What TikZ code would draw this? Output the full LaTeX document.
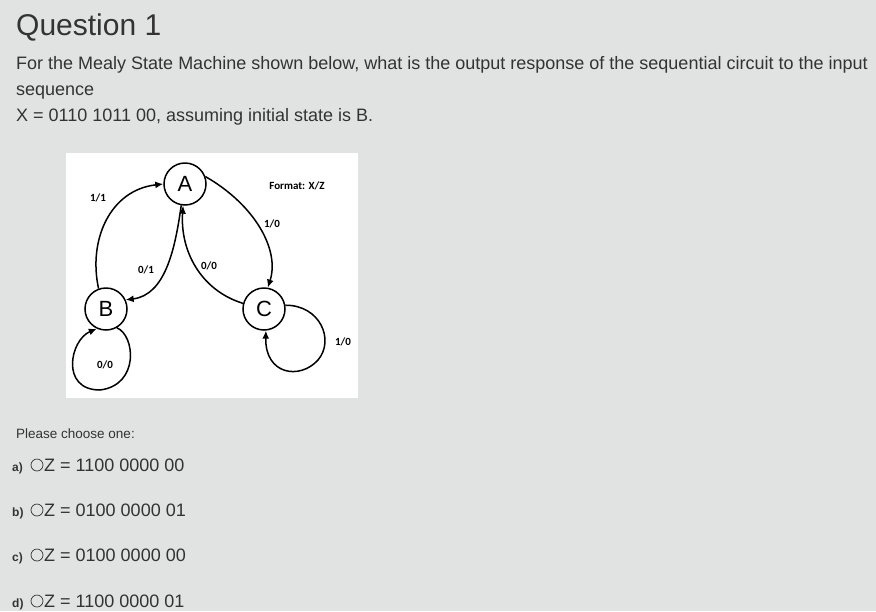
\documentclass[tikz,border=0pt]{standalone}
\usepackage{fontspec}
\setmainfont{Liberation Sans}
\newfontfamily\lblfont{Carlito}
\usetikzlibrary{arrows.meta}
\definecolor{bg}{HTML}{E1E2E2}
\definecolor{txt}{HTML}{333333}
\begin{document}
\begin{tikzpicture}[x=1pt,y=-1pt,
  txtn/.style={anchor=base west,inner sep=0pt,text=txt,font=\fontsize{18}{20}\selectfont},
  st/.style={circle,draw,line width=1.5pt,minimum size=42pt,inner sep=0pt,font=\fontsize{22}{24}\selectfont},
  edge/.style={line width=1.5pt,-{Latex[length=8pt,width=7pt]}},
  lbl/.style={inner sep=0pt,font=\lblfont\bfseries\fontsize{11}{13}\selectfont},
  opt/.style={anchor=base west,inner sep=0pt,text=txt,font=\bfseries\fontsize{12}{14}\selectfont},
  radio/.style={circle,draw=txt,line width=0.7pt,minimum size=12pt,inner sep=0pt}]
\fill[bg] (0,0) rectangle (876,611);
\useasboundingbox (0,0) rectangle (876,611);
\node[txtn,font=\fontsize{30}{34}\selectfont] (q) at (16,35) {Question 1};
\node[txtn] (l1) at (16,69) {For the Mealy State Machine shown below, what is the output response of the sequential circuit to the input};
\node[txtn] (l2) at (16,95) {sequence};
\node[txtn] (l3) at (16,121) {X = 0110 1011 00, assuming initial state is B.};
\fill[white] (66,153) rectangle (358,398);
\node[st] (A) at (185,184) {A};
\node[st] (B) at (106,309) {B};
\node[st] (C) at (264,309) {C};
\draw[edge] (B.110) .. controls (88,240) and (110,190) .. (A.west);
\draw[edge] (A.260) .. controls (175,250) and (165,295) .. (B.25);
\draw[edge] (C.165) .. controls (200,290) and (180,250) .. (A.265);
\draw[edge] (A.20) .. controls (255,205) and (280,250) .. (C.80);
\draw[edge] (C.10) .. controls (320,305) and (335,340) .. (318,360) .. controls (300,380) and (265,375) .. (C.275);
\draw[edge] (B.300) .. controls (135,335) and (140,385) .. (100,390) .. controls (60,390) and (70,340) .. (B.245);
\node[lbl] (l11) at (98,198) {1/1};
\node[lbl] (l01) at (146,270) {0/1};
\node[lbl] (l00a) at (209,266) {0/0};
\node[lbl] (l10a) at (272,224) {1/0};
\node[lbl] (fmt) at (297,186) {Format: X/Z};
\node[lbl] (l10b) at (343,342) {1/0};
\node[lbl] (l00b) at (105,365) {0/0};
\node[txtn,font=\fontsize{13.5}{15}\selectfont] (pc) at (16,438) {Please choose one:};
\foreach \y/\l/\v in {471/a/1100 0000 00,516/b/0100 0000 01,561/c/0100 0000 00,607/d/1100 0000 01}{
  \node[opt] (o\l) at (12,\y) {\l)};
  \node[radio] (r\l) at (37,\y-6) {};
  \node[txtn,anchor=base west] (t\l) at (44,\y) {Z = \v};
}
\end{tikzpicture}
\end{document}
